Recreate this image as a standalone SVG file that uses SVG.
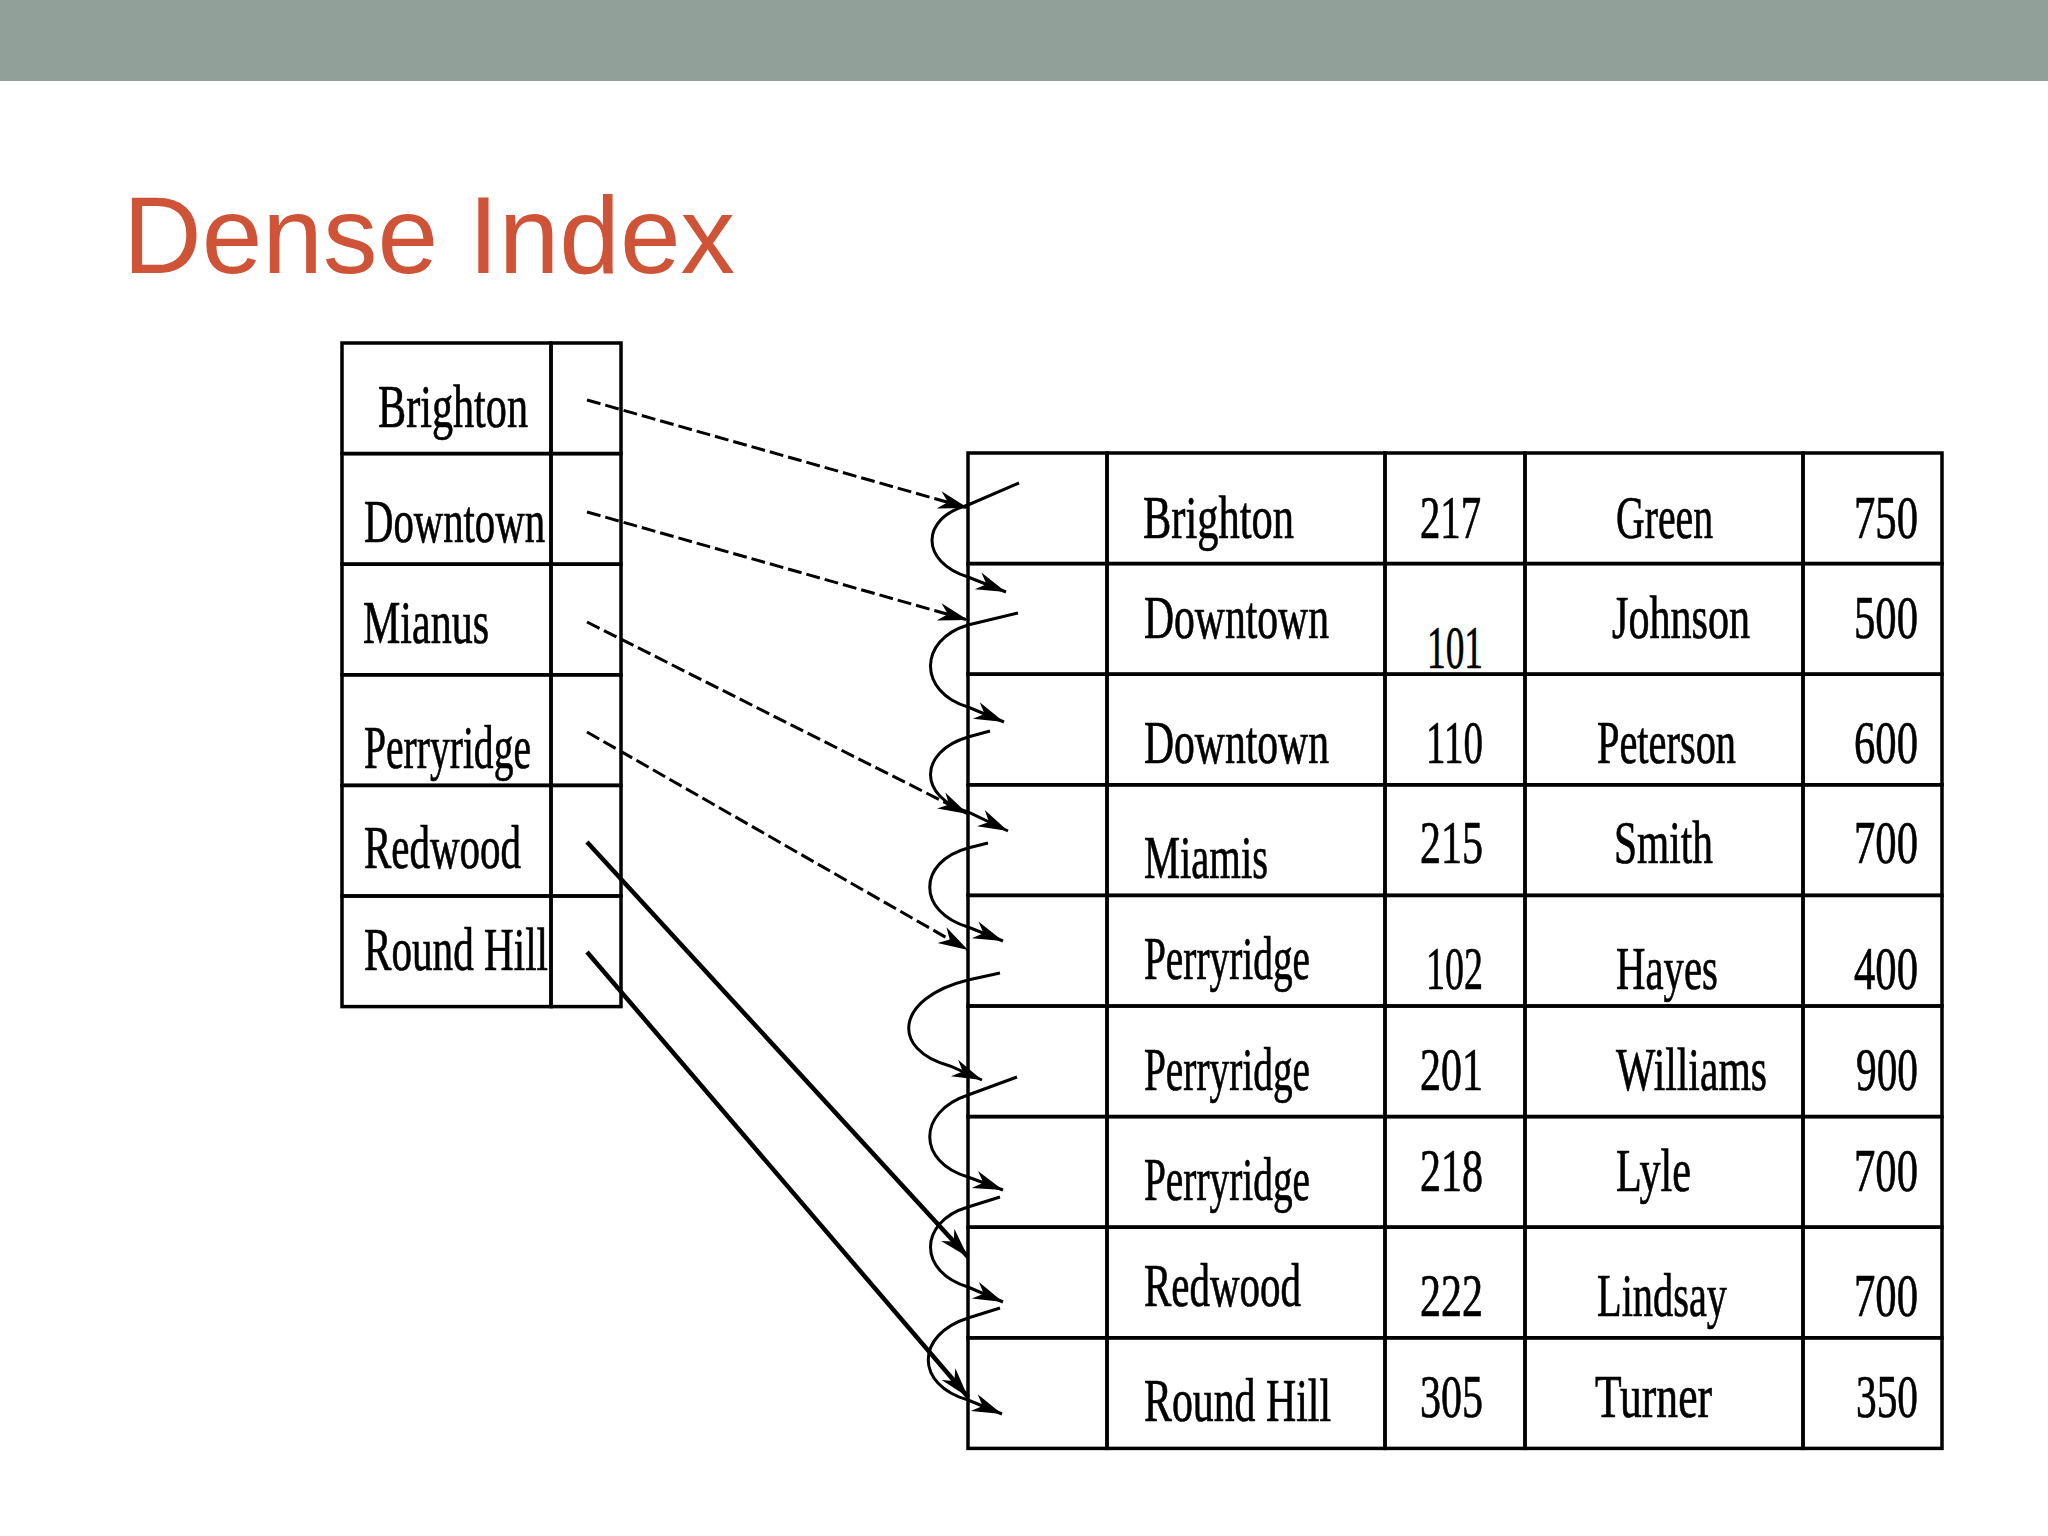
<svg xmlns="http://www.w3.org/2000/svg" width="2048" height="1536" viewBox="0 0 2048 1536">
<defs>
<style>
.t{font-family:"Liberation Serif","Times New Roman",serif;font-size:61px;fill:#000;stroke:#000;stroke-width:0.7}
.title{font-family:"Liberation Sans",Arial,sans-serif;font-size:110px;fill:#CF5337}
.c{fill:none;stroke:#000;stroke-width:3.5}
.idx{fill:none;stroke:#000;stroke-width:3;stroke-dasharray:14 5}
.idxs{fill:none;stroke:#000;stroke-width:4.5}
.ch{fill:none;stroke:#000;stroke-width:3}
</style>
<marker id="ah" markerUnits="userSpaceOnUse" markerWidth="34" markerHeight="24" refX="30" refY="12" orient="auto">
<path d="M0,3 L30,12 L0,21 L9,12 Z" fill="#000"/>
</marker>
</defs>
<rect width="2048" height="1536" fill="#fff"/>
<rect x="0" y="0" width="2048" height="81" fill="#91A19A"/>
<text class="title" x="123" y="273" textLength="612" lengthAdjust="spacingAndGlyphs">Dense Index</text>

<g id="index-table">
<g id="idx-brighton"><rect class="c" x="342" y="343" width="209" height="110.6"/><rect class="c" x="551" y="343" width="70" height="110.6"/><text class="t" x="378" y="427" textLength="150" lengthAdjust="spacingAndGlyphs">Brighton</text></g>
<g id="idx-downtown"><rect class="c" x="342" y="453.6" width="209" height="110.6"/><rect class="c" x="551" y="453.6" width="70" height="110.6"/><text class="t" x="364" y="542" textLength="181" lengthAdjust="spacingAndGlyphs">Downtown</text></g>
<g id="idx-mianus"><rect class="c" x="342" y="564.2" width="209" height="110.6"/><rect class="c" x="551" y="564.2" width="70" height="110.6"/><text class="t" x="363" y="643" textLength="126" lengthAdjust="spacingAndGlyphs">Mianus</text></g>
<g id="idx-perryridge"><rect class="c" x="342" y="674.8" width="209" height="110.6"/><rect class="c" x="551" y="674.8" width="70" height="110.6"/><text class="t" x="364" y="768" textLength="167" lengthAdjust="spacingAndGlyphs">Perryridge</text></g>
<g id="idx-redwood"><rect class="c" x="342" y="785.4" width="209" height="110.6"/><rect class="c" x="551" y="785.4" width="70" height="110.6"/><text class="t" x="364" y="868" textLength="157" lengthAdjust="spacingAndGlyphs">Redwood</text></g>
<g id="idx-roundhill"><rect class="c" x="342" y="896" width="209" height="110.6"/><rect class="c" x="551" y="896" width="70" height="110.6"/><text class="t" x="364" y="970" textLength="184" lengthAdjust="spacingAndGlyphs">Round Hill</text></g>
</g>

<g id="data-table">
<g id="rec-217"><rect class="c" x="968" y="453" width="139" height="110.6"/><rect class="c" x="1107" y="453" width="278" height="110.6"/><rect class="c" x="1385" y="453" width="140" height="110.6"/><rect class="c" x="1525" y="453" width="278" height="110.6"/><rect class="c" x="1803" y="453" width="139" height="110.6"/>
<text class="t" x="1143" y="538" textLength="151" lengthAdjust="spacingAndGlyphs">Brighton</text><text class="t" x="1420" y="538" textLength="61" lengthAdjust="spacingAndGlyphs">217</text><text class="t" x="1616" y="538" textLength="97" lengthAdjust="spacingAndGlyphs">Green</text><text class="t" x="1854" y="538" textLength="64" lengthAdjust="spacingAndGlyphs">750</text></g>
<g id="rec-101"><rect class="c" x="968" y="563.6" width="139" height="110.6"/><rect class="c" x="1107" y="563.6" width="278" height="110.6"/><rect class="c" x="1385" y="563.6" width="140" height="110.6"/><rect class="c" x="1525" y="563.6" width="278" height="110.6"/><rect class="c" x="1803" y="563.6" width="139" height="110.6"/>
<text class="t" x="1144" y="638" textLength="185" lengthAdjust="spacingAndGlyphs">Downtown</text><text class="t" x="1427" y="668" textLength="56" lengthAdjust="spacingAndGlyphs">101</text><text class="t" x="1612" y="638" textLength="138" lengthAdjust="spacingAndGlyphs">Johnson</text><text class="t" x="1854" y="638" textLength="64" lengthAdjust="spacingAndGlyphs">500</text></g>
<g id="rec-110"><rect class="c" x="968" y="674.2" width="139" height="110.6"/><rect class="c" x="1107" y="674.2" width="278" height="110.6"/><rect class="c" x="1385" y="674.2" width="140" height="110.6"/><rect class="c" x="1525" y="674.2" width="278" height="110.6"/><rect class="c" x="1803" y="674.2" width="139" height="110.6"/>
<text class="t" x="1144" y="763" textLength="185" lengthAdjust="spacingAndGlyphs">Downtown</text><text class="t" x="1426" y="763" textLength="57" lengthAdjust="spacingAndGlyphs">110</text><text class="t" x="1597" y="763" textLength="139" lengthAdjust="spacingAndGlyphs">Peterson</text><text class="t" x="1854" y="763" textLength="64" lengthAdjust="spacingAndGlyphs">600</text></g>
<g id="rec-215"><rect class="c" x="968" y="784.8" width="139" height="110.6"/><rect class="c" x="1107" y="784.8" width="278" height="110.6"/><rect class="c" x="1385" y="784.8" width="140" height="110.6"/><rect class="c" x="1525" y="784.8" width="278" height="110.6"/><rect class="c" x="1803" y="784.8" width="139" height="110.6"/>
<text class="t" x="1144" y="878" textLength="124" lengthAdjust="spacingAndGlyphs">Miamis</text><text class="t" x="1420" y="863" textLength="63" lengthAdjust="spacingAndGlyphs">215</text><text class="t" x="1614" y="863" textLength="99" lengthAdjust="spacingAndGlyphs">Smith</text><text class="t" x="1854" y="863" textLength="64" lengthAdjust="spacingAndGlyphs">700</text></g>
<g id="rec-102"><rect class="c" x="968" y="895.4" width="139" height="110.6"/><rect class="c" x="1107" y="895.4" width="278" height="110.6"/><rect class="c" x="1385" y="895.4" width="140" height="110.6"/><rect class="c" x="1525" y="895.4" width="278" height="110.6"/><rect class="c" x="1803" y="895.4" width="139" height="110.6"/>
<text class="t" x="1144" y="979" textLength="166" lengthAdjust="spacingAndGlyphs">Perryridge</text><text class="t" x="1426" y="989" textLength="57" lengthAdjust="spacingAndGlyphs">102</text><text class="t" x="1616" y="989" textLength="102" lengthAdjust="spacingAndGlyphs">Hayes</text><text class="t" x="1854" y="989" textLength="64" lengthAdjust="spacingAndGlyphs">400</text></g>
<g id="rec-201"><rect class="c" x="968" y="1006" width="139" height="110.6"/><rect class="c" x="1107" y="1006" width="278" height="110.6"/><rect class="c" x="1385" y="1006" width="140" height="110.6"/><rect class="c" x="1525" y="1006" width="278" height="110.6"/><rect class="c" x="1803" y="1006" width="139" height="110.6"/>
<text class="t" x="1144" y="1090" textLength="166" lengthAdjust="spacingAndGlyphs">Perryridge</text><text class="t" x="1420" y="1090" textLength="63" lengthAdjust="spacingAndGlyphs">201</text><text class="t" x="1616" y="1090" textLength="151" lengthAdjust="spacingAndGlyphs">Williams</text><text class="t" x="1856" y="1090" textLength="62" lengthAdjust="spacingAndGlyphs">900</text></g>
<g id="rec-218"><rect class="c" x="968" y="1116.6" width="139" height="110.6"/><rect class="c" x="1107" y="1116.6" width="278" height="110.6"/><rect class="c" x="1385" y="1116.6" width="140" height="110.6"/><rect class="c" x="1525" y="1116.6" width="278" height="110.6"/><rect class="c" x="1803" y="1116.6" width="139" height="110.6"/>
<text class="t" x="1144" y="1200" textLength="166" lengthAdjust="spacingAndGlyphs">Perryridge</text><text class="t" x="1420" y="1191" textLength="63" lengthAdjust="spacingAndGlyphs">218</text><text class="t" x="1616" y="1191" textLength="75" lengthAdjust="spacingAndGlyphs">Lyle</text><text class="t" x="1854" y="1191" textLength="64" lengthAdjust="spacingAndGlyphs">700</text></g>
<g id="rec-222"><rect class="c" x="968" y="1227.2" width="139" height="110.6"/><rect class="c" x="1107" y="1227.2" width="278" height="110.6"/><rect class="c" x="1385" y="1227.2" width="140" height="110.6"/><rect class="c" x="1525" y="1227.2" width="278" height="110.6"/><rect class="c" x="1803" y="1227.2" width="139" height="110.6"/>
<text class="t" x="1144" y="1306" textLength="157" lengthAdjust="spacingAndGlyphs">Redwood</text><text class="t" x="1420" y="1316" textLength="63" lengthAdjust="spacingAndGlyphs">222</text><text class="t" x="1597" y="1316" textLength="130" lengthAdjust="spacingAndGlyphs">Lindsay</text><text class="t" x="1854" y="1316" textLength="64" lengthAdjust="spacingAndGlyphs">700</text></g>
<g id="rec-305"><rect class="c" x="968" y="1337.8" width="139" height="110.6"/><rect class="c" x="1107" y="1337.8" width="278" height="110.6"/><rect class="c" x="1385" y="1337.8" width="140" height="110.6"/><rect class="c" x="1525" y="1337.8" width="278" height="110.6"/><rect class="c" x="1803" y="1337.8" width="139" height="110.6"/>
<text class="t" x="1144" y="1421" textLength="187" lengthAdjust="spacingAndGlyphs">Round Hill</text><text class="t" x="1420" y="1417" textLength="63" lengthAdjust="spacingAndGlyphs">305</text><text class="t" x="1595" y="1417" textLength="117" lengthAdjust="spacingAndGlyphs">Turner</text><text class="t" x="1856" y="1417" textLength="62" lengthAdjust="spacingAndGlyphs">350</text></g>
</g>

<g id="connectors">
<path class="idx" d="M587,400 L968,508" marker-end="url(#ah)"/>
<path class="idx" d="M587,512 L968,620" marker-end="url(#ah)"/>
<path class="idx" d="M587,622 L968,814" marker-end="url(#ah)"/>
<path class="idx" d="M587,732 L968,950" marker-end="url(#ah)"/>
<path class="idxs" d="M587,842 L968,1257" marker-end="url(#ah)"/>
<path class="idxs" d="M587,952 L968,1397" marker-end="url(#ah)"/>
<path class="ch" d="M1019,483 L968,505 C920,518 920,562 968,577 L1006,592" marker-end="url(#ah)"/>
<path class="ch" d="M1018,613 L968,625 C918,640 918,692 968,707 L1004,722" marker-end="url(#ah)"/>
<path class="ch" d="M990,731 L968,737 C918,752 918,797 968,812 L1008,831" marker-end="url(#ah)"/>
<path class="ch" d="M988,843 L968,848 C917,862 917,912 968,927 L1003,941" marker-end="url(#ah)"/>
<path class="ch" d="M1000,973 L968,980 C895,998 890,1050 950,1066 L982,1080" marker-end="url(#ah)"/>
<path class="ch" d="M1017,1077 L968,1095 C917,1112 917,1162 968,1177 L1003,1190" marker-end="url(#ah)"/>
<path class="ch" d="M1000,1197 L968,1207 C918,1222 918,1272 968,1287 L1003,1302" marker-end="url(#ah)"/>
<path class="ch" d="M1000,1308 L968,1318 C915,1335 915,1385 968,1400 L1002,1414" marker-end="url(#ah)"/>
</g>
</svg>
